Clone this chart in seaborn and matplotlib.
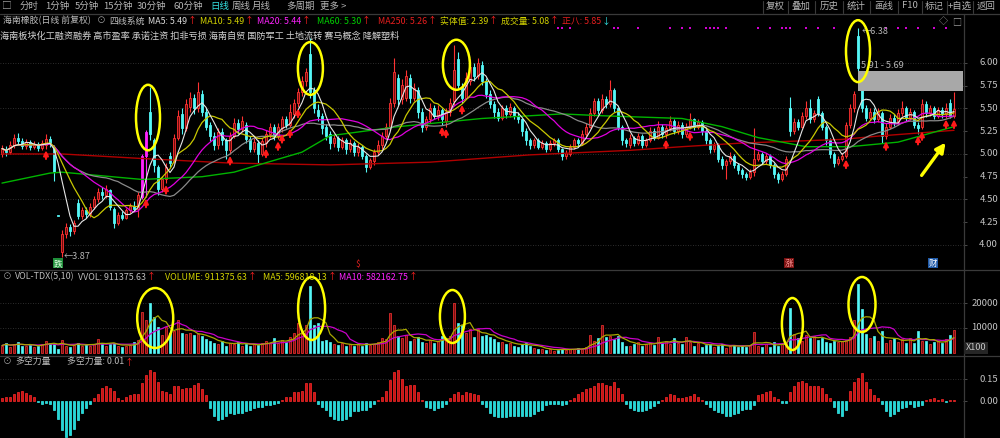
import numpy as np
import pandas as pd
import matplotlib
matplotlib.use("Agg")
import matplotlib.pyplot as plt
import seaborn as sns
from matplotlib.patches import Ellipse, Rectangle
from matplotlib.lines import Line2D
from matplotlib import transforms

# ---------------- data ----------------
opens = [
    5.00, 5.06, 5.02, 5.10, 5.18, 5.14, 5.09, 5.13, 5.08, 5.11,
    5.07, 5.10, 5.16, 5.08, 4.32, 3.92, 4.12, 4.20, 4.15, 4.46,
    4.32, 4.38, 4.34, 4.42, 4.50, 4.58, 4.55, 4.60, 4.40, 4.24,
    4.33, 4.30, 4.38, 4.43, 4.40, 4.53, 4.98, 5.46, 5.15, 4.86,
    4.62, 4.72, 4.98, 4.92, 5.18, 5.44, 5.28, 5.52, 5.62, 5.50,
    5.66, 5.46, 5.32, 5.20, 5.10, 5.24, 5.15, 5.04, 5.20, 5.34,
    5.27, 5.32, 5.16, 5.06, 5.12, 5.00, 5.12, 5.22, 5.30, 5.20,
    5.28, 5.38, 5.32, 5.44, 5.56, 5.68, 5.80, 6.10, 5.70, 5.48,
    5.42, 5.30, 5.22, 5.12, 5.18, 5.08, 5.15, 5.05, 5.12, 5.02,
    5.08, 4.98, 4.86, 4.92, 5.02, 5.10, 5.20, 5.30, 5.56, 5.84,
    5.60, 5.62, 5.84, 5.62, 5.70, 5.46, 5.30, 5.38, 5.50, 5.42,
    5.48, 5.36, 5.46, 5.58, 6.04, 5.74, 5.62, 5.80, 5.96, 5.86,
    5.98, 5.80, 5.66, 5.55, 5.46, 5.40, 5.50, 5.44, 5.50, 5.42,
    5.38, 5.25, 5.15, 5.10, 5.15, 5.08, 5.12, 5.05, 5.12, 5.15,
    5.05, 4.98, 5.00, 5.08, 5.15, 5.12, 5.22, 5.30, 5.45, 5.58,
    5.48, 5.60, 5.55, 5.70, 5.50, 5.30, 5.15, 5.10, 5.18, 5.12,
    5.20, 5.10, 5.15, 5.25, 5.18, 5.30, 5.22, 5.28, 5.36, 5.25,
    5.32, 5.22, 5.30, 5.38, 5.30, 5.35, 5.25, 5.15, 5.05, 5.10,
    4.95, 4.88, 4.92, 4.98, 4.88, 4.82, 4.78, 4.75, 4.80, 4.95,
    5.00, 4.92, 4.98, 4.88, 4.78, 4.72, 4.78, 5.50, 5.25, 5.35,
    5.30, 5.42, 5.50, 5.38, 5.60, 5.45, 5.30, 5.15, 5.00, 4.90,
    4.95, 4.98, 5.32, 5.50, 6.30, 5.78, 5.50, 5.40, 5.46, 5.38,
    5.45, 5.20, 5.30, 5.40, 5.35, 5.45, 5.50, 5.40, 5.46, 5.32,
    5.30, 5.55, 5.45, 5.50, 5.42, 5.48, 5.44, 5.56, 5.42,
]
closes = [
    5.06, 5.02, 5.10, 5.18, 5.14, 5.09, 5.13, 5.08, 5.11, 5.07,
    5.12, 5.16, 5.12, 4.80, 4.32, 4.12, 4.20, 4.15, 4.24, 4.32,
    4.38, 4.34, 4.42, 4.50, 4.58, 4.55, 4.61, 4.42, 4.24, 4.33,
    4.30, 4.38, 4.43, 4.40, 4.55, 4.98, 5.24, 5.22, 4.88, 4.62,
    4.72, 4.86, 4.90, 5.18, 5.42, 5.28, 5.55, 5.62, 5.50, 5.68,
    5.46, 5.30, 5.20, 5.10, 5.24, 5.15, 5.04, 5.20, 5.34, 5.27,
    5.36, 5.16, 5.06, 5.13, 5.00, 5.14, 5.22, 5.30, 5.20, 5.30,
    5.38, 5.32, 5.46, 5.56, 5.68, 5.80, 5.90, 5.68, 5.50, 5.42,
    5.28, 5.20, 5.12, 5.18, 5.08, 5.15, 5.05, 5.12, 5.02, 5.08,
    4.98, 4.86, 4.93, 5.02, 5.10, 5.20, 5.30, 5.56, 5.90, 5.60,
    5.76, 5.86, 5.62, 5.72, 5.46, 5.30, 5.38, 5.50, 5.42, 5.48,
    5.38, 5.46, 5.56, 5.92, 5.76, 5.62, 5.84, 5.96, 5.86, 6.00,
    5.80, 5.66, 5.55, 5.46, 5.40, 5.50, 5.44, 5.52, 5.42, 5.38,
    5.25, 5.15, 5.10, 5.15, 5.08, 5.12, 5.05, 5.12, 5.15, 5.05,
    4.98, 5.01, 5.08, 5.15, 5.12, 5.22, 5.30, 5.45, 5.58, 5.48,
    5.60, 5.55, 5.70, 5.50, 5.30, 5.15, 5.12, 5.18, 5.12, 5.20,
    5.10, 5.15, 5.25, 5.18, 5.30, 5.22, 5.28, 5.36, 5.25, 5.32,
    5.22, 5.30, 5.38, 5.30, 5.35, 5.25, 5.15, 5.05, 5.10, 4.95,
    4.88, 4.92, 4.98, 4.88, 4.82, 4.78, 4.75, 4.80, 4.95, 5.00,
    4.92, 4.98, 4.88, 4.78, 4.72, 4.78, 4.95, 5.25, 5.35, 5.30,
    5.42, 5.50, 5.38, 5.45, 5.45, 5.30, 5.15, 5.00, 4.90, 4.95,
    4.98, 5.32, 5.50, 5.66, 5.95, 5.50, 5.40, 5.46, 5.38, 5.46,
    5.20, 5.30, 5.40, 5.35, 5.45, 5.50, 5.40, 5.46, 5.32, 5.28,
    5.55, 5.45, 5.50, 5.42, 5.48, 5.44, 5.50, 5.42, 5.49,
]
highs = [
    5.10, 5.09, 5.14, 5.22, 5.23, 5.17, 5.16, 5.15, 5.14, 5.13,
    5.15, 5.22, 5.20, 5.10, 4.32, 4.16, 4.24, 4.23, 4.27, 4.50,
    4.42, 4.42, 4.46, 4.54, 4.63, 4.64, 4.66, 4.62, 4.42, 4.36,
    4.37, 4.41, 4.46, 4.48, 4.58, 5.00, 5.26, 5.74, 5.18, 4.88,
    4.76, 4.90, 5.02, 5.22, 5.48, 5.50, 5.60, 5.68, 5.66, 5.79,
    5.70, 5.50, 5.35, 5.24, 5.28, 5.28, 5.18, 5.24, 5.40, 5.38,
    5.42, 5.35, 5.20, 5.17, 5.15, 5.18, 5.26, 5.34, 5.33, 5.34,
    5.42, 5.42, 5.55, 5.60, 5.72, 5.86, 5.95, 6.27, 5.74, 5.55,
    5.45, 5.33, 5.25, 5.22, 5.20, 5.19, 5.17, 5.16, 5.14, 5.12,
    5.10, 5.00, 4.96, 5.05, 5.15, 5.24, 5.34, 5.62, 6.05, 5.88,
    5.82, 5.92, 5.88, 5.78, 5.74, 5.50, 5.42, 5.56, 5.54, 5.54,
    5.50, 5.50, 5.62, 6.20, 6.12, 5.78, 5.90, 6.04, 6.00, 6.06,
    6.02, 5.84, 5.70, 5.58, 5.50, 5.54, 5.54, 5.56, 5.53, 5.46,
    5.40, 5.28, 5.18, 5.18, 5.17, 5.15, 5.14, 5.15, 5.18, 5.17,
    5.07, 5.04, 5.11, 5.18, 5.18, 5.26, 5.34, 5.50, 5.62, 5.62,
    5.66, 5.64, 5.81, 5.72, 5.52, 5.32, 5.18, 5.22, 5.20, 5.23,
    5.22, 5.18, 5.30, 5.28, 5.36, 5.33, 5.32, 5.42, 5.38, 5.36,
    5.35, 5.34, 5.45, 5.40, 5.38, 5.37, 5.27, 5.18, 5.13, 5.12,
    4.98, 4.95, 5.02, 5.00, 4.90, 4.85, 4.80, 4.83, 5.29, 5.03,
    5.02, 5.01, 5.00, 4.90, 4.80, 4.81, 4.98, 5.63, 5.40, 5.38,
    5.46, 5.58, 5.60, 5.48, 5.64, 5.47, 5.32, 5.17, 5.02, 4.98,
    5.01, 5.35, 5.55, 5.69, 6.38, 5.82, 5.54, 5.50, 5.50, 5.50,
    5.47, 5.34, 5.44, 5.44, 5.49, 5.58, 5.53, 5.50, 5.48, 5.35,
    5.60, 5.58, 5.54, 5.53, 5.52, 5.52, 5.56, 5.60, 5.68,
]
lows = [
    4.97, 4.98, 5.00, 5.07, 5.10, 5.05, 5.06, 5.04, 5.05, 5.03,
    5.04, 5.06, 5.08, 4.70, 4.32, 3.87, 4.08, 4.10, 4.12, 4.28,
    4.28, 4.30, 4.31, 4.40, 4.47, 4.50, 4.52, 4.38, 4.19, 4.22,
    4.27, 4.28, 4.35, 4.37, 4.31, 4.50, 4.53, 5.15, 4.80, 4.55,
    4.58, 4.68, 4.86, 4.90, 5.15, 5.22, 5.25, 5.46, 5.44, 5.46,
    5.42, 5.26, 5.14, 5.04, 5.06, 5.10, 4.94, 5.00, 5.17, 5.22,
    5.24, 5.12, 5.02, 5.02, 4.90, 4.98, 5.08, 5.18, 5.15, 5.16,
    5.24, 5.28, 5.30, 5.40, 5.52, 5.64, 5.75, 5.62, 5.45, 5.36,
    5.22, 5.15, 5.06, 5.08, 5.03, 5.05, 5.00, 5.02, 4.98, 4.98,
    4.94, 4.80, 4.83, 4.88, 4.99, 5.06, 5.16, 5.26, 5.52, 5.54,
    5.55, 5.58, 5.56, 5.58, 5.40, 5.24, 5.26, 5.34, 5.38, 5.37,
    5.32, 5.30, 5.42, 5.54, 5.72, 5.56, 5.60, 5.76, 5.80, 5.82,
    5.76, 5.62, 5.50, 5.40, 5.36, 5.37, 5.40, 5.41, 5.38, 5.34,
    5.20, 5.10, 5.06, 5.07, 5.05, 5.05, 5.02, 5.03, 5.09, 5.02,
    4.93, 4.95, 4.98, 5.05, 5.08, 5.10, 5.19, 5.28, 5.42, 5.44,
    5.45, 5.50, 5.52, 5.46, 5.26, 5.10, 5.08, 5.07, 5.09, 5.10,
    5.07, 5.08, 5.13, 5.15, 5.16, 5.18, 5.18, 5.25, 5.22, 5.22,
    5.18, 5.19, 5.27, 5.26, 5.27, 5.21, 5.11, 5.01, 5.02, 4.91,
    4.84, 4.72, 4.89, 4.85, 4.78, 4.74, 4.71, 4.72, 4.76, 4.92,
    4.89, 4.89, 4.85, 4.74, 4.68, 4.70, 4.76, 5.20, 5.22, 5.26,
    5.28, 5.38, 5.34, 5.35, 5.42, 5.26, 5.10, 4.96, 4.86, 4.88,
    4.92, 4.96, 5.28, 5.46, 5.91, 5.46, 5.36, 5.37, 5.34, 5.35,
    5.12, 5.16, 5.27, 5.31, 5.32, 5.42, 5.36, 5.37, 5.28, 5.22,
    5.27, 5.41, 5.42, 5.38, 5.39, 5.40, 5.40, 5.39, 5.40,
]
# volume in lots (x100)
volumes = [
    3000, 4000, 2500, 3500, 4500, 3000, 2800, 3200, 2500, 3000,
    3800, 5000, 4200, 3500, 1500, 5200, 3000, 2500, 3200, 4200,
    3000, 3600, 2800, 3500, 5600, 4000, 3000, 3500, 4200, 2800,
    2500, 3000, 3200, 4500, 5200, 16400, 13200, 20000, 14400, 10400,
    7200, 10400, 8000, 9000, 13200, 8000, 7600, 8000, 7200, 7800,
    7000, 5600, 5000, 4200, 3500, 4800, 3000, 4000, 3600, 4500,
    3000, 3800, 2800, 3500, 3200, 4000, 5000, 4200, 6000, 4000,
    5200, 4400, 6400, 8000, 12000, 9000, 11200, 27000, 11200, 12000,
    5000, 5200, 4500, 3800, 3200, 4000, 3000, 3500, 2800, 3600,
    3000, 4200, 3300, 3800, 4500, 6000, 5600, 16000, 11200, 7000,
    6000, 7200, 5000, 5600, 6500, 4500, 4000, 5200, 4200, 4800,
    7000, 6000, 7000, 20000, 12000, 11200, 8000, 9600, 6500, 9600,
    7000, 7200, 6500, 5600, 4400, 4400, 3800, 4200, 3000, 2600,
    3500, 4200, 3000, 2200, 1800, 1500, 1200, 1600, 1000, 1400,
    1800, 1200, 1600, 1500, 2000, 1800, 2400, 7200, 5000, 6000,
    11200, 6500, 7000, 5500, 7000, 4500, 3000, 2800, 3500, 4400,
    3000, 3600, 4000, 3200, 6400, 4200, 4800, 3600, 6000, 4000,
    3500, 6400, 4400, 3000, 4000, 2600, 3200, 3800, 2400, 3000,
    3500, 2000, 2800, 3200, 2400, 3000, 2600, 3400, 8400, 3000,
    2600, 3800, 2400, 4500, 3000, 3500, 4000, 18000, 7600, 6000,
    5000, 7200, 6000, 7000, 5400, 6000, 4400, 4000, 5000, 4500,
    4800, 5200, 6500, 13200, 27600, 17600, 7600, 6000, 6800, 5000,
    9000, 4000, 5200, 6000, 4400, 5600, 4200, 6000, 4000, 9000,
    5000, 4800, 3600, 4400, 5000, 4000, 5600, 7200, 9114,
]
# 多空力量 histogram
power = [
    0.02, 0.025, 0.03, 0.045, 0.06, 0.065, 0.055, 0.04, 0.025, -0.01,
    -0.02, -0.015, -0.02, -0.06, -0.12, -0.2, -0.245, -0.23, -0.19, -0.13,
    -0.08, -0.05, -0.02, 0.02, 0.05, 0.09, 0.1, 0.09, 0.07, 0.02,
    0.005, 0.03, 0.04, 0.045, 0.05, 0.12, 0.18, 0.21, 0.2, 0.13,
    0.07, 0.06, 0.05, 0.1, 0.1, 0.08, 0.09, 0.09, 0.11, 0.12,
    0.08, 0.04, -0.05, -0.1, -0.13, -0.12, -0.1, -0.08, -0.09, -0.08,
    -0.08, -0.07, -0.06, -0.05, -0.04, -0.04, -0.03, -0.03, -0.02, -0.015,
    0.01, 0.03, 0.03, 0.06, 0.06, 0.07, 0.12, 0.12, 0.06, -0.02,
    -0.04, -0.06, -0.1, -0.12, -0.13, -0.13, -0.12, -0.1, -0.07, -0.07,
    -0.06, -0.06, -0.04, -0.02, 0.01, 0.03, 0.07, 0.14, 0.2, 0.21,
    0.15, 0.1, 0.11, 0.11, 0.06, 0.01, -0.04, -0.05, -0.06, -0.05,
    -0.04, -0.02, 0.02, 0.05, 0.06, 0.04, 0.06, 0.055, 0.05, 0.04,
    -0.02, -0.04, -0.08, -0.1, -0.11, -0.11, -0.11, -0.1, -0.1, -0.1,
    -0.1, -0.1, -0.1, -0.09, -0.07, -0.06, -0.03, -0.02, -0.02, -0.02,
    -0.03, -0.02, 0.005, 0.02, 0.045, 0.06, 0.08, 0.09, 0.1, 0.125,
    0.12, 0.11, 0.1, 0.13, 0.09, 0.045, -0.02, -0.05, -0.06, -0.07,
    -0.07, -0.06, -0.05, -0.035, -0.015, 0.01, 0.03, 0.05, 0.04, 0.02,
    0.02, 0.03, 0.035, 0.045, 0.03, 0.01, -0.02, -0.04, -0.06, -0.075,
    -0.085, -0.1, -0.1, -0.09, -0.08, -0.06, -0.055, -0.055, -0.03, 0.04,
    0.05, 0.06, 0.065, 0.03, 0.015, -0.015, -0.015, 0.06, 0.1, 0.13,
    0.135, 0.12, 0.1, 0.1, 0.1, 0.09, 0.05, 0.02, -0.04, -0.08,
    -0.1, -0.06, 0.07, 0.13, 0.16, 0.19, 0.13, 0.08, 0.04, 0.02,
    -0.02, -0.07, -0.1, -0.09, -0.07, -0.05, -0.04, -0.02, -0.04, -0.035,
    -0.03, 0.01, 0.015, 0.02, 0.01, 0.015, -0.01, 0.005, 0.01,
]
# long moving averages (their history lies before the visible window)
ma60_days = [0, 12, 15, 35, 50, 58, 75, 82, 99, 120, 140, 150, 170, 180, 189, 201, 212, 224, 238]
ma60_vals = [4.68, 4.79, 4.80, 4.72, 4.75, 4.80, 5.02, 5.20, 5.30, 5.39, 5.44, 5.42, 5.39, 5.30, 5.18, 5.08, 5.08, 5.13, 5.30]
ma250_days = [0, 15, 35, 57, 82, 107, 132, 157, 170, 185, 210, 220, 238]
ma250_vals = [5.00, 5.00, 4.95, 4.90, 4.88, 4.91, 4.99, 5.04, 5.08, 5.12, 5.16, 5.20, 5.26]

limit_days = [35, 36]                 # magenta highlighted candles
arrow_days = [11, 36, 41, 57, 66, 69, 70, 72, 74, 110, 111, 115, 166, 172, 211, 221, 229, 230, 236, 238]
dot_days = [139, 140, 142, 153, 154, 159, 167, 170, 172, 176, 177, 178, 179, 181, 189, 192,
            195, 196, 197, 201, 204, 208, 221, 224, 226, 229, 233, 236]
dot_level = 6.38
gap_day, gap_low, gap_high = 214, 5.69, 5.91

price_ticks = [4.00, 4.25, 4.50, 4.75, 5.00, 5.25, 5.50, 5.75, 6.00]
price_grid = [4.0, 4.5, 5.0, 5.5, 6.0]
vol_ticks = [10000, 20000]
power_ticks = [0.00, 0.15]

# ---------------- frame ----------------
df = pd.DataFrame({"open": opens, "close": closes, "high": highs, "low": lows,
                   "vol": volumes, "power": power})
df["day"] = np.arange(len(df))
prev = df["close"].shift(1).fillna(df["open"])
df["up"] = (df["close"] > df["open"]) | ((df["close"] == df["open"]) & (df["close"] >= prev))
for w in (5, 10, 20, 30):
    df[f"ma{w}"] = df["close"].rolling(w, min_periods=1).mean()
df["vma5"] = df["vol"].rolling(5, min_periods=1).mean()
df["vma10"] = df["vol"].rolling(10, min_periods=1).mean()

sns.set_theme(style="dark", rc={"axes.facecolor": "black", "figure.facecolor": "black"})
plt.rcParams["font.family"] = ["Noto Sans CJK SC", "DejaVu Sans"]

W, H = 1000, 438
fig = plt.figure(figsize=(10, 4.38), dpi=100, facecolor="black")
renderer = fig.canvas.get_renderer()


def box(top, bottom):
    return [0, 1 - bottom / H, 963 / W, (bottom - top) / H]


ax_p = fig.add_axes(box(14, 268))
ax_v = fig.add_axes(box(271, 355))
ax_k = fig.add_axes(box(357, 438))
XL = (-0.5, 240.25)
for ax in (ax_p, ax_v, ax_k):
    ax.set_facecolor("black")
    ax.set_xlim(*XL)
    for s in ax.spines.values():
        s.set_visible(False)
    ax.set_xticks([])
    ax.tick_params(axis="y", left=False, right=True, labelleft=False, labelright=False,
                   length=3, color="#555555", width=0.6)

ax_p.set_ylim(3.747, 6.538)
ax_v.set_ylim(-800, 32800)
ax_k.set_ylim(-0.252, 0.300)

RED_E, RED_F, CYAN, MAG = "#ff3232", "#6e0c0c", "#55f7f7", "#ff22ff"

# ---------------- price panel ----------------
for g in price_grid:
    ax_p.axhline(g, color="#3c3c3c", lw=0.6, ls=(0, (1, 2)), zorder=0)

edge_c, face_c = [], []
for d, up in zip(df["day"], df["up"]):
    if d in limit_days:
        edge_c.append(MAG); face_c.append(MAG)
    elif up:
        edge_c.append(RED_E); face_c.append(RED_F)
    else:
        edge_c.append(CYAN); face_c.append(CYAN)

ax_p.vlines(df["day"], df["low"], df["high"], colors=edge_c, lw=0.8, zorder=2)
body_lo = df[["open", "close"]].min(axis=1)
body_h = (df["close"] - df["open"]).abs().clip(lower=0.008)
ax_p.bar(df["day"], body_h, bottom=body_lo, width=0.72, color=face_c, edgecolor=edge_c,
         linewidth=0.6, zorder=3)

sns.lineplot(x=ma250_days, y=ma250_vals, ax=ax_p, color="#b00000", lw=1.0, zorder=4)
sns.lineplot(x=ma60_days, y=ma60_vals, ax=ax_p, color="#00b400", lw=1.0, zorder=4)
sns.lineplot(data=df, x="day", y="ma30", ax=ax_p, color="#8a8a8a", lw=0.9, zorder=4)
sns.lineplot(data=df, x="day", y="ma20", ax=ax_p, color="#e000e0", lw=0.9, zorder=5)
sns.lineplot(data=df, x="day", y="ma10", ax=ax_p, color="#c8c800", lw=0.9, zorder=5)
sns.lineplot(data=df, x="day", y="ma5", ax=ax_p, color="#e6e6e6", lw=0.8, zorder=5)
ax_p.set_xlabel(""); ax_p.set_ylabel("")

# gap box
ax_p.add_patch(Rectangle((gap_day, gap_low), XL[1] - gap_day, gap_high - gap_low,
                         facecolor="#a8a8a8", edgecolor="none", zorder=6))
ax_p.text(gap_day + 0.8, 5.97, f"{gap_high:.2f} - {gap_low:.2f}", color="#b4b4b4",
          fontsize=6.6, va="center", zorder=7)
ax_p.text(gap_day + 0.8, df["high"].max() - 0.03, "←6.38", color="#b4b4b4", fontsize=6.6,
          va="center", zorder=7)
low_day = int(df["low"].idxmin())
ax_p.text(low_day + 0.3, df["low"].min(), f"←{df['low'].min():.2f}", color="#b4b4b4",
          fontsize=6.6, va="center", zorder=7)

# buy arrows
for d in arrow_days:
    lo = df.loc[d, "low"]
    ax_p.annotate("", xy=(d, lo - 0.02), xytext=(d, lo - 0.115),
                  arrowprops=dict(arrowstyle="-|>", color="#ff1a1a", lw=1.5,
                                  mutation_scale=7, shrinkA=0, shrinkB=0), zorder=8)

# 正八 dots
ax_p.scatter(dot_days, [dot_level] * len(dot_days), s=3, marker="s", color="#d000d0",
             linewidths=0, zorder=6)

# yellow highlight ellipses
for cx, cy, w, h in [(36.5, 5.40, 6.0, 0.72), (77.1, 5.94, 6.25, 0.58),
                     (113.6, 5.98, 6.75, 0.55), (214.0, 6.13, 6.0, 0.68)]:
    ax_p.add_patch(Ellipse((cx, cy), w, h, fill=False, ec="#ffff00", lw=1.8, zorder=9))
ax_p.annotate("", xy=(236.3, 5.15), xytext=(229.5, 4.74),
              arrowprops=dict(arrowstyle="-|>", color="#ffff00", lw=2.4, mutation_scale=14),
              zorder=9)

# event badges
for d, s, fc, tc in [(14, "跌", "#1f8f3a", "#e8ffe8"), (196.7, "涨", "#7a1010", "#ff9a9a"),
                     (232.7, "财", "#1f5aa8", "#ffffff")]:
    ax_p.text(d, 3.80, s, color=tc, fontsize=6.2, ha="center", va="center", zorder=9,
              bbox=dict(boxstyle="square,pad=0.08", fc=fc, ec="none"))
ax_p.text(89, 3.79, "$", color="#e02020", fontsize=6, ha="center", va="center", zorder=9)

trans_p = transforms.blended_transform_factory(fig.transFigure, ax_p.transData)
ax_p.set_yticks(price_ticks)
for t in price_ticks:
    ax_p.text(0.998, t, f"{t:.2f}", transform=trans_p, ha="right", va="center",
              color="#c4c4c4", fontsize=6.8, clip_on=False)

# ---------------- volume panel ----------------
for g in vol_ticks:
    ax_v.axhline(g, color="#3c3c3c", lw=0.6, ls=(0, (1, 2)), zorder=0)
v_edge = [RED_E if u else CYAN for u in df["up"]]
v_face = ["#7a1010" if u else CYAN for u in df["up"]]
ax_v.bar(df["day"], df["vol"], width=0.72, color=v_face, edgecolor=v_edge, linewidth=0.5, zorder=2)
sns.lineplot(data=df, x="day", y="vma10", ax=ax_v, color="#c800c8", lw=0.9, zorder=3)
sns.lineplot(data=df, x="day", y="vma5", ax=ax_v, color="#a8a800", lw=0.9, zorder=3)
ax_v.set_xlabel(""); ax_v.set_ylabel("")
for cx, cy, w, h in [(38.3, 14000, 9.0, 24000), (77.4, 17800, 6.75, 25200),
                     (112.6, 14600, 6.25, 21200), (197.6, 11600, 5.25, 20800),
                     (215.0, 19400, 6.75, 22000)]:
    ax_v.add_patch(Ellipse((cx, cy), w, h, fill=False, ec="#ffff00", lw=1.8, zorder=9, clip_on=False))
trans_v = transforms.blended_transform_factory(fig.transFigure, ax_v.transData)
ax_v.set_yticks(vol_ticks)
for t in vol_ticks:
    ax_v.text(0.998, t, f"{t}", transform=trans_v, ha="right", va="center",
              color="#c4c4c4", fontsize=6.8, clip_on=False)

# ---------------- 多空力量 panel ----------------
ax_k.axhline(0.15, color="#3c3c3c", lw=0.6, ls=(0, (1, 2)), zorder=0)
pos = df["power"] >= 0
ax_k.bar(df["day"], df["power"], width=0.72,
         color=np.where(pos, "#c81414", "#22d8d8"),
         edgecolor=np.where(pos, "#ff2a2a", "#3af0f0"), linewidth=0.5, zorder=2)
trans_k = transforms.blended_transform_factory(fig.transFigure, ax_k.transData)
ax_k.set_yticks(power_ticks)
for t in power_ticks:
    ax_k.text(0.998, t, f"{t:.2f}", transform=trans_k, ha="right", va="center",
              color="#c4c4c4", fontsize=6.8, clip_on=False)

# ---------------- frame lines & header texts ----------------
for yy in (13.5, 270, 356):
    fig.add_artist(Line2D([0, 1], [1 - yy / H] * 2, color="#3a3a3a", lw=0.9))
fig.add_artist(Line2D([963.5 / W] * 2, [0, 1 - 14 / H], color="#3a3a3a", lw=0.9))


def label(x, y, s, color="#c8c8c8", size=6.4, ha="left", **kw):
    return fig.text(x / W, 1 - y / H, s, color=color, fontsize=size, ha=ha, va="center", **kw)


def text_run(y, segs, size=6.4):
    # segs: (x or None, text, colour); None = right after the previous text
    cursor = 0.0
    for x, s, c in segs:
        x = cursor + 0.5 if x is None else max(x, cursor + 3)
        t = label(x, y, s, c, size)
        cursor = t.get_window_extent(renderer).x1


label(2, 6, "□", "#9a9a9a", 7)
for x, s in [(20, "分时"), (45, "1分钟"), (75, "5分钟"), (103, "15分钟"), (137, "30分钟"),
             (173, "60分钟"), (210, "日线"), (232, "周线"), (252, "月线"), (286, "多周期"),
             (320, "更多 >")]:
    label(x, 6, s, "#33e0e0" if s == "日线" else "#b4b4b4", 6.8)
for sx in (763, 788, 815, 843, 870, 898, 922, 947, 973):
    fig.add_artist(Line2D([sx / W] * 2, [1 - 1 / H, 1 - 13 / H], color="#3a3a3a", lw=0.8))
for x, s in [(775.5, "复权"), (801.5, "叠加"), (829, "历史"), (856.5, "统计"), (884, "画线"),
             (910, "F10"), (934.5, "标记"), (960, "+自选"), (986.5, "返回")]:
    label(x, 6, s, "#b4b4b4", 6.8, ha="center")

UP, DN = "#ff2020", "#33e6e6"
text_run(21, [(0, "海南橡胶(日线 前复权)", "#bdbdbd"), (97, "⊙", "#9a9a9a"), (107, "四线系统", "#bdbdbd"),
              (148, "MA5: 5.49", "#dcdcdc"), (None, "↑", UP),
              (200, "MA10: 5.49", "#d2d200"), (None, "↑", UP),
              (257, "MA20: 5.44", "#ff22ff"), (None, "↑", UP),
              (317, "MA60: 5.30", "#00d200"), (None, "↑", UP),
              (378, "MA250: 5.26", "#e61e1e"), (None, "↑", UP),
              (440, "实体值: 2.39", "#d2d200"), (None, "↑", UP),
              (500, "成交量: 5.08", "#d2d200"), (None, "↑", UP),
              (562, "正八: 5.85", "#e61e1e"), (None, "↓", DN)])
label(943, 22, "◇", "#9a9a9a", 6.5, ha="center")
label(957, 22, "□", "#9a9a9a", 6.5, ha="center")
label(0, 36, "海南板块化工融资融券 高市盈率 承诺注资 扣非亏损 海南自贸 国防军工 土地流转 赛马概念 降解塑料",
      "#d2d2d2", 6.6)

text_run(277, [(3, "⊙", "#9a9a9a"), (11, "VOL-TDX(5,10)", "#bdbdbd"),
               (78, "VVOL: 911375.63", "#bdbdbd"), (None, "↑", UP),
               (165, "VOLUME: 911375.63", "#d2d200"), (None, "↑", UP),
               (263, "MA5: 596818.13", "#d2d200"), (None, "↑", UP),
               (335, "MA10: 582162.75", "#ff22ff"), (None, "↑", UP)])
label(976, 348, "X100", "#c4c4c4", 6.6, ha="center",
      bbox=dict(boxstyle="square,pad=0.15", fc="#262626", ec="none"))

text_run(362, [(3, "⊙", "#9a9a9a"), (12, "多空力量", "#bdbdbd"),
               (67, "多空力量: 0.01", "#bdbdbd"), (None, "↑", UP)])

fig.savefig("out.png", dpi=100, facecolor="black")
